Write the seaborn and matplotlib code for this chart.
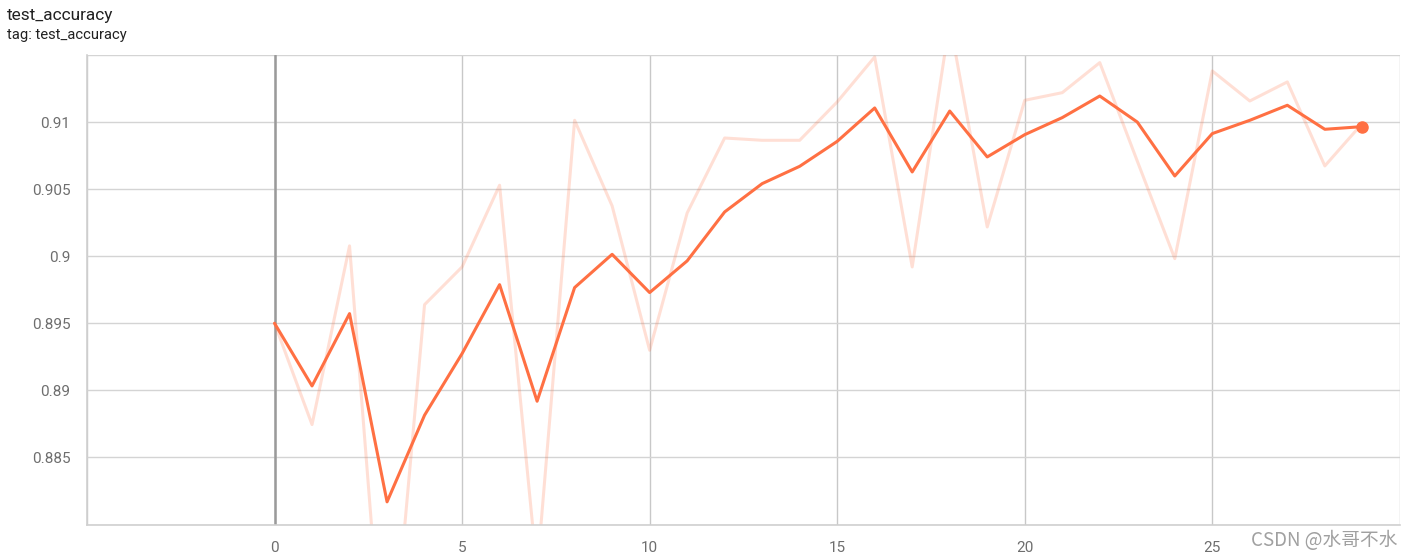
import seaborn as sns
import matplotlib.pyplot as plt
import pandas as pd

# values
steps = list(range(30))
raw_acc = [0.8950, 0.88745, 0.90077, 0.8652, 0.89639, 0.89920, 0.90529, 0.8765,
           0.91013, 0.90375, 0.89299, 0.90322, 0.90881, 0.90864, 0.90864, 0.91150,
           0.91485, 0.89920, 0.9175, 0.90218, 0.91162, 0.91219, 0.91443, 0.90709,
           0.89982, 0.91381, 0.91157, 0.91299, 0.90673, 0.9099]
smooth_acc = [0.8950, 0.89033, 0.89572, 0.88169, 0.88815, 0.89274, 0.89788, 0.88919,
              0.89766, 0.90014, 0.89729, 0.89965, 0.90330, 0.90541, 0.90670, 0.90856,
              0.91105, 0.90628, 0.91082, 0.90740, 0.90906, 0.91033, 0.91194, 0.91000,
              0.90598, 0.90914, 0.91013, 0.91125, 0.90946, 0.90966]
x_ticks = [-5, 0, 5, 10, 15, 20, 25, 30]
x_labels = ["", "0", "5", "10", "15", "20", "25", ""]
y_ticks = [0.88, 0.885, 0.89, 0.895, 0.9, 0.905, 0.91, 0.915]
y_labels = ["", "0.885", "0.89", "0.895", "0.9", "0.905", "0.91", ""]

df = pd.DataFrame({"step": steps, "raw": raw_acc, "smooth": smooth_acc})

sns.set_style("white")
plt.rcParams["font.family"] = ["Roboto", "DejaVu Sans"]

orange = "#ff7043"
fig = plt.figure(figsize=(14.14, 5.58), dpi=100)
ax = fig.add_axes([0.0615, 0.060, 0.9285, 0.8415])

sns.lineplot(data=df, x="step", y="raw", color=orange, alpha=0.22, lw=2.2, ax=ax)
sns.lineplot(data=df, x="step", y="smooth", color=orange, lw=2.2, ax=ax)
ax.plot(steps[-1], smooth_acc[-1], "o", color=orange, ms=8, zorder=5)

ax.set_xlim(-5, 30)
ax.set_ylim(0.88, 0.915)
ax.set_xticks(x_ticks)
ax.set_xticklabels(x_labels)
ax.set_yticks(y_ticks)
ax.set_yticklabels(y_labels)
ax.set_xlabel("")
ax.set_ylabel("")

ax.grid(axis="y", color="#d4d4d4", lw=1)
ax.grid(axis="x", color="#c8c8c8", lw=1)
ax.axvline(0, color="#9a9a9a", lw=1.8, zorder=1)
for s in ["top", "right"]:
    ax.spines[s].set_visible(False)
for s in ["left", "bottom"]:
    ax.spines[s].set_color("#d0d0d0")
    ax.spines[s].set_linewidth(1.2)
ax.tick_params(axis="both", colors="#d0d0d0", length=6, width=1,
               labelcolor="#6e6e6e", labelsize=11)
ax.tick_params(axis="y", pad=6)
ax.tick_params(axis="x", pad=6)

fig.text(0.005, 0.972, "test_accuracy", fontsize=12.4, color="#212121", va="center")
fig.text(0.005, 0.938, "tag: test_accuracy", fontsize=10.6, color="#212121", va="center")
fig.text(0.988, 0.032, "CSDN @水哥不水", fontsize=13.5, color="#a0a0a0", ha="right",
         va="center", family=["Noto Sans CJK SC", "DejaVu Sans"])

plt.savefig("out.png", dpi=100)
